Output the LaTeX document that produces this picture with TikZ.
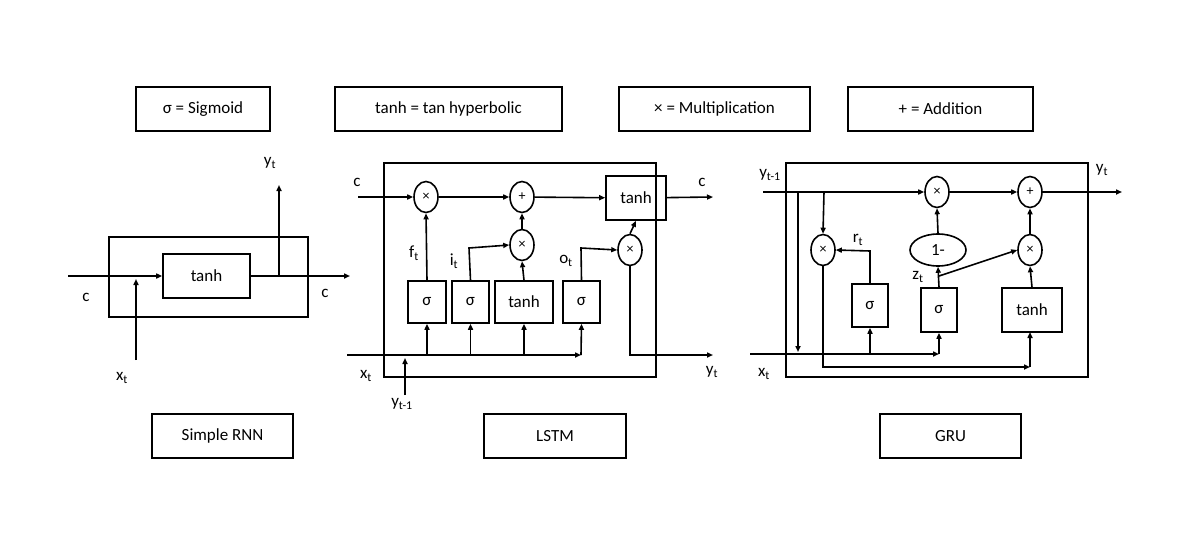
\documentclass[tikz,border=0pt]{standalone}
\usepackage{fontspec}
\setmainfont{Carlito}
\usetikzlibrary{arrows.meta,shapes.geometric}
\begin{document}
\begin{tikzpicture}[x=1pt,y=-1pt,line width=1.6pt,
  every node/.style={font=\fontsize{17}{20}\selectfont},
  ar/.style={-{Triangle[length=6pt,width=5pt]}},
  bx/.style={draw,rectangle,inner sep=0pt,anchor=north west},
  op/.style={draw,ellipse,minimum width=24pt,minimum height=31pt,inner sep=0pt,font=\fontsize{14}{16}\selectfont},
  lb/.style={inner sep=0pt},
  lg/.style={draw,rectangle,line width=1.3pt,minimum height=44pt,inner sep=0pt}]
\useasboundingbox (0,0) rectangle (1200,549);
% legend
\node[lg,minimum width=134pt] (l1) at (203,109) {σ = Sigmoid};
\node[lg,minimum width=227pt] (l2) at (448.5,109) {tanh = tan hyperbolic};
\node[lg,minimum width=191pt] (l3) at (714.5,109) {× = Multiplication};
\node[lg,minimum width=185pt] (l4) at (940.5,109) {+ = Addition};
\node[lg,minimum width=141pt] (n1) at (222.5,436) {Simple RNN};
\node[lg,minimum width=142pt] (n2) at (555,436) {LSTM};
\node[lg,minimum width=141pt] (n3) at (950.5,436) {GRU};
% ---------- Simple RNN
\node[bx,minimum width=199pt,minimum height=80pt] (rb) at (108,236) {};
\node[draw,minimum width=87pt,minimum height=44pt,inner sep=0pt] (rt) at (206.5,276) {tanh};
\coordinate (ri) at (68,276); \coordinate (ro) at (350,276);
\coordinate (rs) at (279,276); \coordinate (ry) at (279,185);
\coordinate (rx0) at (136,360); \coordinate (rx1) at (136,279);
\draw[ar] (ri) -- (rt.west);
\draw[ar] (rt.east) -- (ro);
\draw[ar] (rs) -- (ry);
\draw[ar] (rx0) -- (rx1);
\node[lb] (rc1) at (86,297) {c};
\node[lb] (rc2) at (325,293) {c};
\node[lb] (rxt) at (122,378) {x\textsubscript{t}};
\node[lb] (ryt) at (270,163) {y\textsubscript{t}};
% ---------- LSTM
\node[bx,minimum width=272pt,minimum height=214pt] (lb) at (383,162) {};
\node[op] (mf) at (426,197) {×};
\node[op] (pl) at (522,197) {+};
\node[op] (mi) at (522,245) {×};
\node[op] (mo) at (630,250) {×};
\node[draw,minimum width=60pt,minimum height=44pt,inner sep=0pt] (lt) at (636,198) {tanh};
\node[draw,minimum width=38pt,minimum height=42pt,inner sep=0pt] (sf) at (427,302) {σ};
\node[draw,minimum width=37pt,minimum height=42pt,inner sep=0pt] (si) at (470.5,302) {σ};
\node[draw,minimum width=58pt,minimum height=42pt,inner sep=0pt] (st) at (524,302) {tanh};
\node[draw,minimum width=37pt,minimum height=42pt,inner sep=0pt] (so) at (581.5,302) {σ};
\coordinate (lci) at (358,197); \coordinate (lco) at (713,197);
\draw[ar] (lci) -- (mf);
\draw[ar] (mf) -- (pl);
\draw[ar] (pl) -- (lt);
\draw[ar] (lt) -- (lco);
\draw[ar] (sf.north) -- (mf.south);
\draw[ar] (si.north) -- (469,248) -- (mi.west);
\draw[ar] (st.north) -- (mi.south);
\draw[ar] (mi) -- (pl);
\draw[ar] (so.north) -- (581,248) -- (mo.west);
\draw[ar] (mo.north) -- (lt.south);
\coordinate (lyo) at (713,355);
\draw[ar] (mo.south) -- (630,355) -- (lyo);
\coordinate (lxi) at (347,355); \coordinate (lxe) at (581,355);
\draw[ar] (lxi) -- (lxe);
\draw[ar] (lxe) -- (so.south);
\draw[ar] (427,355) -- (sf.south);
\draw[ar] (470.5,355) -- (si.south);
\draw[ar] (524,355) -- (st.south);
\coordinate (ly0) at (405,395); \coordinate (ly1) at (405,358);
\draw[ar] (ly0) -- (ly1);
\node[lb] (lc1) at (357,182) {c};
\node[lb] (lc2) at (702,182) {c};
\node[lb] (lxt) at (366,376) {x\textsubscript{t}};
\node[lb] (lyt) at (712,372) {y\textsubscript{t}};
\node[lb] (lyp) at (402,404) {y\textsubscript{t-1}};
\node[lb] (lft) at (414,253) {f\textsubscript{t}};
\node[lb] (lit) at (454,261) {i\textsubscript{t}};
\node[lb] (lot) at (566,261) {o\textsubscript{t}};
% ---------- GRU
\node[bx,minimum width=302pt,minimum height=214pt] (gb) at (785,162) {};
\node[op] (gm1) at (937,192) {×};
\node[op] (gp) at (1030,192) {+};
\node[op] (gm2) at (1030,250) {×};
\node[op] (gr) at (823,250) {×};
\node[draw,ellipse,minimum width=56pt,minimum height=32pt,inner sep=0pt] (g1m) at (938,250) {1-};
\node[draw,minimum width=36pt,minimum height=43pt,inner sep=0pt] (gsr) at (870,305.5) {σ};
\node[draw,minimum width=36pt,minimum height=44pt,inner sep=0pt] (gsz) at (939,310) {σ};
\node[draw,minimum width=60pt,minimum height=44pt,inner sep=0pt] (gt) at (1032,310) {tanh};
\coordinate (gyi) at (763,192); \coordinate (gyo) at (1122,192);
\draw[ar] (gyi) -- (gm1);
\draw[ar] (gm1) -- (gp);
\draw[ar] (gp) -- (gyo);
\draw[ar] (798,192) -- (798,352);
\draw[ar] (824,192) -- (gr.north);
\coordinate (gxi) at (750,354); \coordinate (gxe) at (939,354);
\draw[ar] (gxi) -- (gxe);
\draw[ar] (gxe) -- (gsz.south);
\draw[ar] (870,354) -- (gsr.south);
\draw[ar] (gsr.north) -- (870,251) -- (gr.east);
\coordinate (gte) at (1030,367);
\draw[ar] (gr.south) -- (823,367) -- (gte);
\draw[ar] (gte) -- (1030,332);
\draw[ar] (gsz.north) -- (g1m.south);
\draw[ar] (g1m.north) -- (gm1.south);
\draw[ar] (939,276) -- (gm2.west);
\draw[ar] (gt.north) -- (gm2.south);
\draw[ar] (gm2.north) -- (gp.south);
\node[lb] (gyp) at (770,175) {y\textsubscript{t-1}};
\node[lb] (gyt) at (1102,170) {y\textsubscript{t}};
\node[lb] (gxt) at (764,374) {x\textsubscript{t}};
\node[lb] (grt) at (858,240) {r\textsubscript{t}};
\node[lb] (gzt) at (918,277) {z\textsubscript{t}};
\end{tikzpicture}
\end{document}
